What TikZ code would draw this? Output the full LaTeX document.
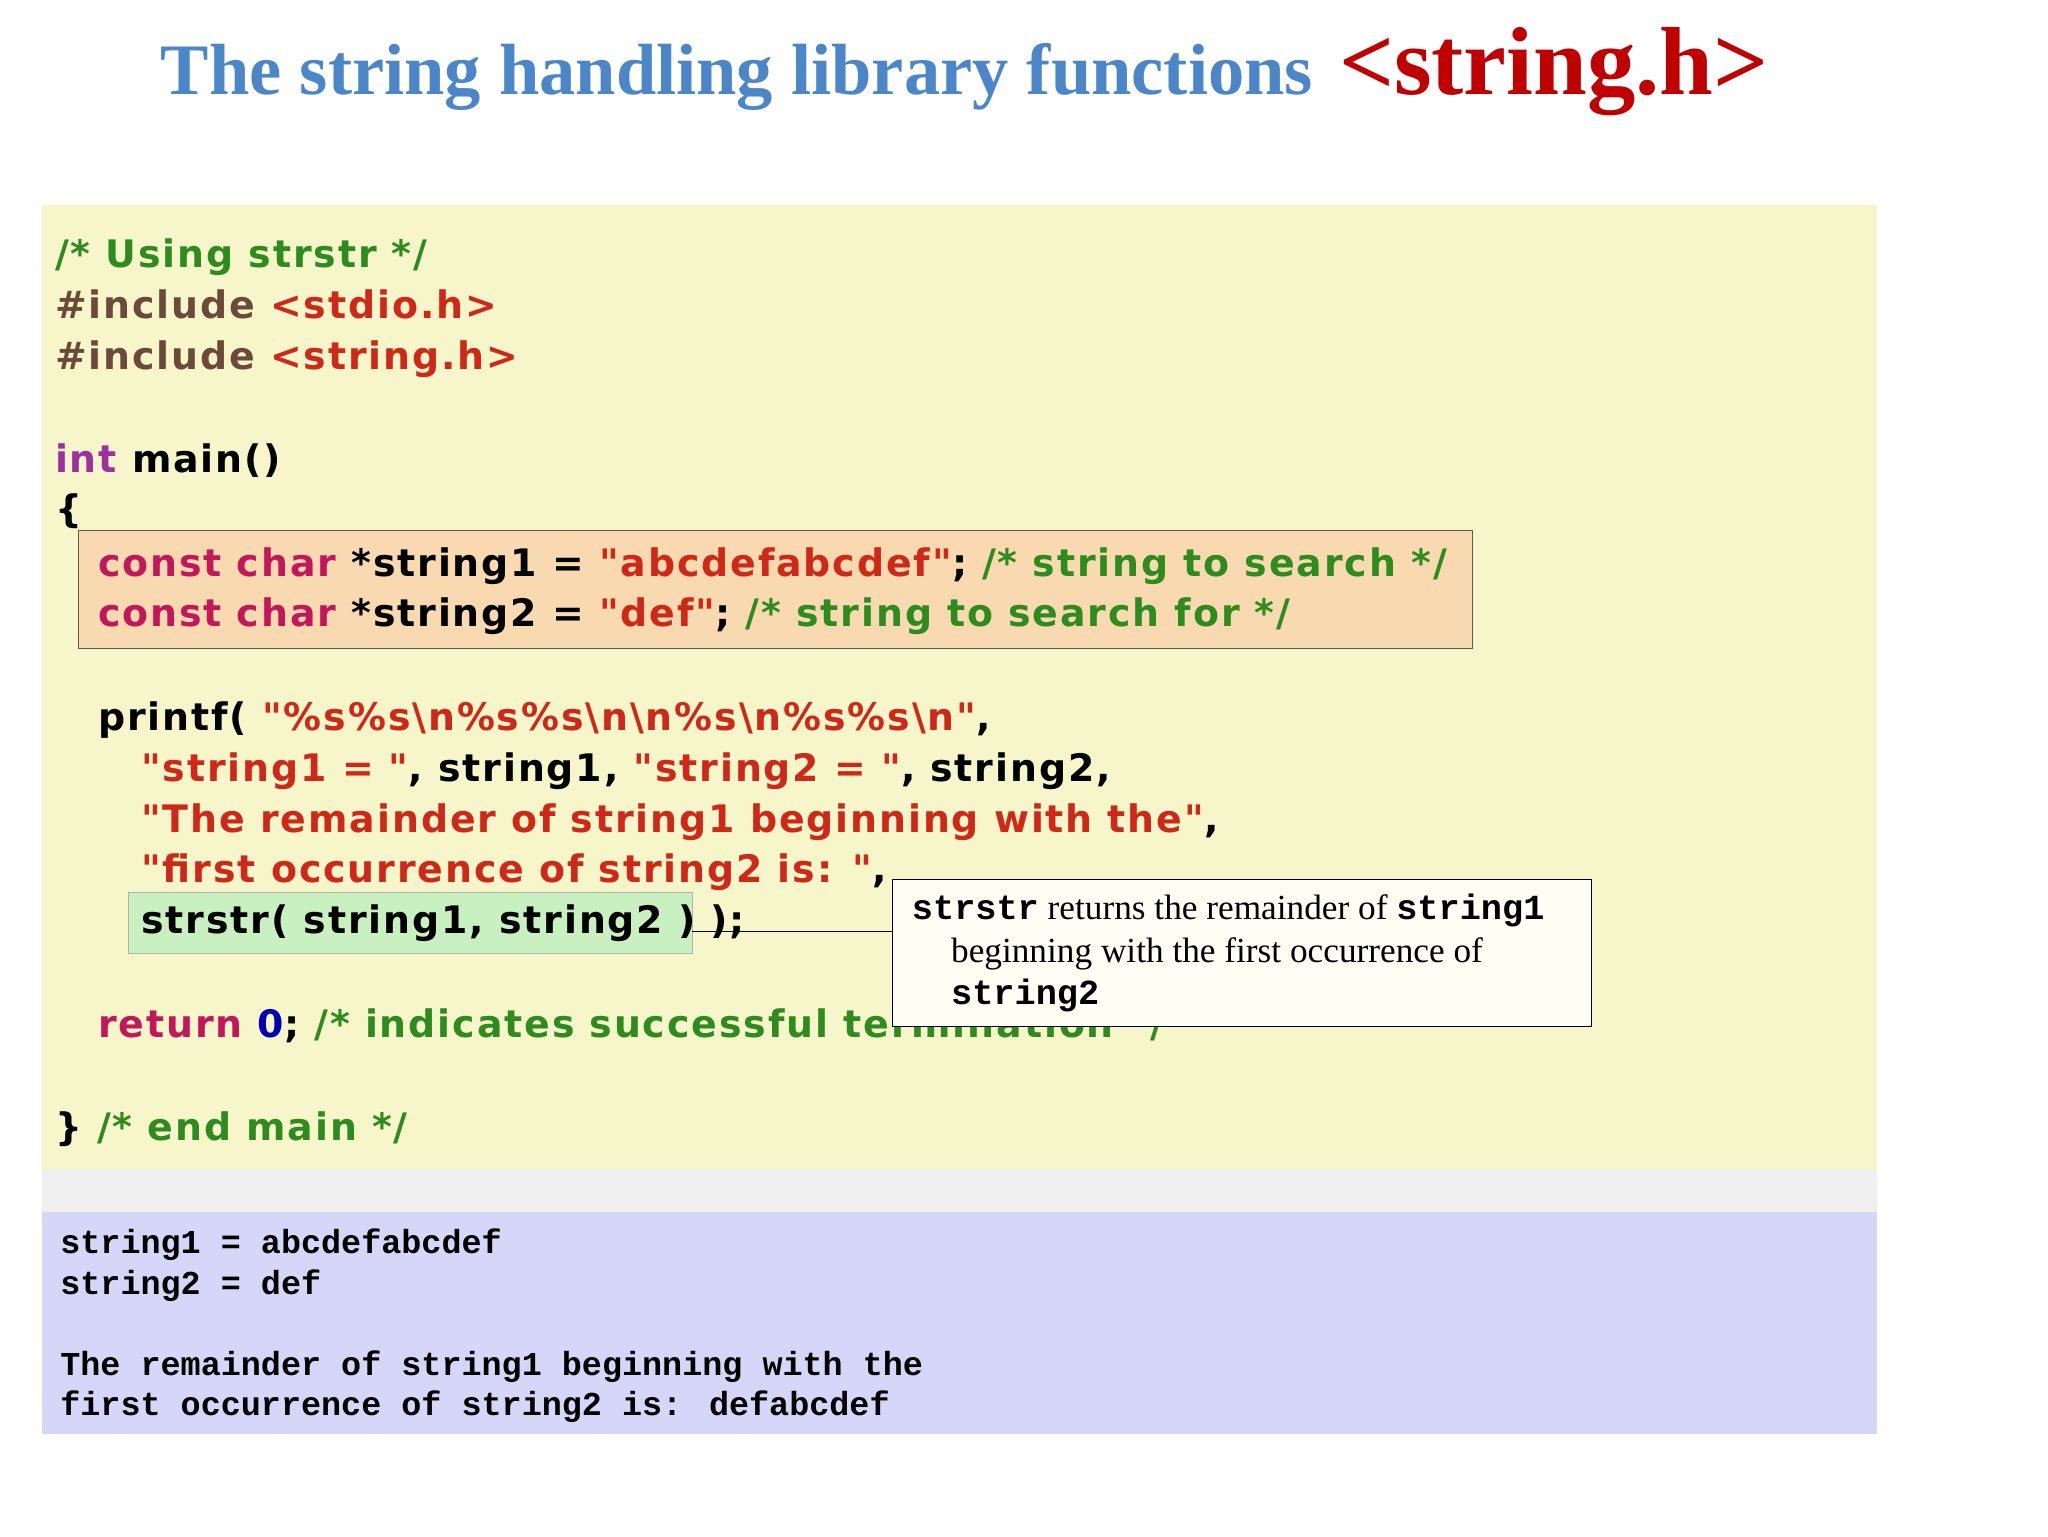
\documentclass[tikz,border=0pt]{standalone}
\usepackage{fontspec}
\setmainfont{Liberation Serif}
\newfontfamily\codef[LetterSpace=5]{DejaVu Sans}
\newfontfamily\outf{Liberation Mono}
\definecolor{ttl}{HTML}{4A86C8}
\definecolor{ttr}{HTML}{C00000}
\definecolor{cm}{HTML}{2E8B1E}
\definecolor{kw}{HTML}{C2185B}
\definecolor{pp}{HTML}{6B4A3A}
\definecolor{st}{HTML}{D02818}
\definecolor{ip}{HTML}{9B30A0}
\definecolor{yel}{HTML}{F7F6CA}
\definecolor{blu}{HTML}{D6D6F8}
\definecolor{org}{HTML}{F8D9B0}
\definecolor{grn}{HTML}{C8F0C0}
\newcommand{\C}[1]{\textcolor{cm}{#1}}
\newcommand{\K}[1]{\textcolor{kw}{#1}}
\newcommand{\Sx}[1]{\textcolor{st}{#1}}
\begin{document}
\begin{tikzpicture}[x=1pt,y=-1pt,
  code/.style={anchor=base west,inner sep=0pt,font=\codef\bfseries\fontsize{29}{29}\selectfont},
  outp/.style={anchor=base west,inner sep=0pt,font=\outf\bfseries\fontsize{25.6}{26}\selectfont},
  call/.style={anchor=base west,inner sep=0pt,font=\fontsize{27}{27}\selectfont}]
\useasboundingbox (0,0) rectangle (1568,1176);
\fill[white] (0,0) rectangle (1568,1176);
\node[anchor=base west,inner sep=0pt,text=ttl,font=\bfseries\fontsize{55.5}{56}\selectfont] (t1) at (123,72) {The string handling library functions};
\node[anchor=base west,inner sep=0pt,text=ttr,font=\bfseries\fontsize{74}{74}\selectfont] (t2) at (1025,72) {<string.h>};
\fill[yel] (32,157) rectangle (1437,895);
\fill[gray!12] (32,895) rectangle (1437,928);
\fill[blu] (32,928) rectangle (1437,1098);
\draw[gray!70!black,fill=org] (60,406) rectangle (1127,496);
\draw[gray!60,fill=grn] (98,683) rectangle (530,730);
\node[code] (l1) at (42,205) {\C{/* Using strstr */}};
\node[code] (l2) at (42,244) {\textcolor{pp}{\#include} \Sx{<stdio.h>}};
\node[code] (l3) at (42,283) {\textcolor{pp}{\#include} \Sx{<string.h>}};
\node[code] (l5) at (42,362) {\textcolor{ip}{int} main()};
\node[code] (l6) at (42,400) {\{};
\node[code] (l7) at (75,441) {\K{const char} *string1 = \Sx{"abcdefabcdef"}; \C{/* string to search */}};
\node[code] (l8) at (75,480) {\K{const char} *string2 = \Sx{"def"}; \C{/* string to search for */}};
\node[code] (l9) at (75,559) {printf( \Sx{"\%s\%s\textbackslash n\%s\%s\textbackslash n\textbackslash n\%s\textbackslash n\%s\%s\textbackslash n"},};
\node[code] (l10) at (108,598) {\Sx{"string1 = "}, string1, \Sx{"string2 = "}, string2,};
\node[code] (l11) at (108,637) {\Sx{"The remainder of string1 beginning with the"},};
\node[code] (l12) at (108,676) {\Sx{"first occurrence of string2 is: "},};
\node[code] (l13) at (108,715) {strstr( string1, string2 ) );};
\node[code] (l14) at (75,794) {\K{return} \textcolor{blue!70!black}{0}; \C{/* indicates successful termination */}};
\node[code] (l15) at (42,873) {\} \C{/* end main */}};
\coordinate (pa) at (530,713);
\draw[black,fill=white!96!yellow] (683,673) rectangle (1218,786);
\draw (pa) -- (683,713);
\node[call] (c1) at (698,704) {{\outf\bfseries strstr} returns the remainder of {\outf\bfseries string1}};
\node[call] (c2) at (728,737) {beginning with the first occurrence of};
\node[call] (c3) at (728,769) {{\outf\bfseries string2}};
\node[outp] (o1) at (46,960) {string1 = abcdefabcdef};
\node[outp] (o2) at (46,991) {string2 = def};
\node[outp] (o3) at (46,1053) {The remainder of string1 beginning with the};
\node[outp] (o4) at (46,1084) {first occurrence of string2 is: defabcdef};
\end{tikzpicture}
\end{document}
